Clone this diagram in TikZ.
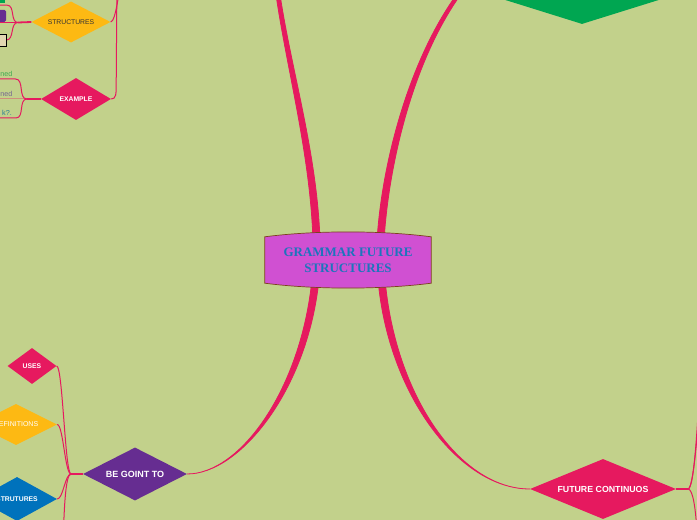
\documentclass[tikz,border=0pt]{standalone}
\usepackage{fontspec}
\setmainfont{Liberation Sans}
\newfontfamily\titlefont{Liberation Serif}
\usetikzlibrary{shapes.geometric,calc}
\definecolor{bgolive}{RGB}{194,209,139}
\definecolor{crimson}{RGB}{230,25,95}
\definecolor{mmorange}{RGB}{253,185,19}
\definecolor{mmpurple}{RGB}{102,45,145}
\definecolor{mmblue}{RGB}{0,114,188}
\definecolor{mmgreen}{RGB}{0,166,81}
\definecolor{mainfill}{RGB}{208,80,210}
\definecolor{mainedge}{RGB}{125,65,30}
\definecolor{titleblue}{RGB}{28,117,188}
\definecolor{boxbeige}{RGB}{225,215,178}
\definecolor{leafgreen}{RGB}{60,170,80}
\definecolor{leafgray}{RGB}{115,100,145}
\definecolor{leafteal}{RGB}{40,125,150}
\pgfdeclarelayer{bg}
\pgfdeclarelayer{mid}
\pgfsetlayers{bg,mid,main}
\tikzset{
  topic/.style={diamond,aspect=2,inner sep=0pt,text=white,font=\bfseries\fontsize{6.8}{8}\selectfont},
  leaf/.style={anchor=south east,inner xsep=1pt,inner ysep=2.5pt,font=\fontsize{7.2}{8}\selectfont},
  branch/.style={crimson,line width=1pt},
  trunk/.style={fill=crimson,draw=crimson,line width=0.8pt},
}
\begin{document}
\begin{tikzpicture}[x=1pt,y=1pt]
\begin{pgfonlayer}{bg}
\fill[bgolive] (0,0) rectangle (697,520);
\end{pgfonlayer}
\useasboundingbox (0,0) rectangle (697,520);

% central topic
\node[minimum width=166pt,minimum height=46pt,align=center,text=titleblue,
  font=\titlefont\bfseries\fontsize{13}{16}\selectfont] (main) at (348,260) {GRAMMAR FUTURE\\STRUCTURES};
\begin{pgfonlayer}{mid}
\filldraw[fill=mainfill,draw=mainedge,line width=0.7pt] (main.north west) .. controls +(50,6.5) and +(-50,6.5) .. (main.north east)
  -- (main.south east) .. controls +(-50,-6.5) and +(50,-6.5) .. (main.south west) -- cycle;
\end{pgfonlayer}

% topics
\node[topic,fill=mmgreen,aspect=3.2,minimum width=288pt,minimum height=90pt] (tense) at (582,541) {};
\node[topic,fill=mmorange,text=black!80,font=\fontsize{6.8}{8}\selectfont,minimum width=79pt,minimum height=41pt] (structs) at (71,498) {STRUCTURES};
\node[topic,fill=crimson,minimum width=70pt,minimum height=42pt] (example) at (76,421) {EXAMPLE};
\node[topic,fill=crimson,minimum width=49pt,minimum height=36pt] (uses) at (32,154) {USES};
\node[topic,fill=mmorange,font=\fontsize{7}{8}\selectfont,minimum width=82pt,minimum height=41pt] (defs) at (16,95.5) {DEFINITIONS};
\node[topic,fill=mmblue,minimum width=80pt,minimum height=44pt] (struts) at (17,21) {STRUTURES};
\node[topic,fill=mmpurple,font=\bfseries\fontsize{9}{11}\selectfont,minimum width=104pt,minimum height=53pt] (bego) at (135,46) {BE GOINT TO};
\node[topic,fill=crimson,aspect=2.4,font=\bfseries\fontsize{8.8}{11}\selectfont,minimum width=146pt,minimum height=60pt] (futcont) at (603,31) {FUTURE CONTINUOS};

% cut-off subtopics
\node[fill=mmgreen,minimum width=15pt,minimum height=8pt,inner sep=0pt] (gbox) at (-2.5,521) {};
\node[fill=mmpurple,rounded corners=1.5pt,minimum width=16pt,minimum height=12pt,inner sep=0pt] (pbox) at (-2,504) {};
\node[fill=boxbeige,draw=black,line width=0.8pt,minimum width=16pt,minimum height=12pt,inner sep=0pt] (beigebox) at (-2,480) {};
\node[leaf,text=leafgreen] (ned1) at (13.5,441) {ned};
\node[leaf,text=leafgray] (ned2) at (13.5,421) {ned};
\node[leaf,text=leafteal] (ask) at (13,402) {k?.};

\coordinate (hubS) at (18,497.5);
\coordinate (hubE) at (27,421);
\coordinate (hubB) at (71,46);
\coordinate (hubF) at (688,31);
\coordinate (ulend) at (276,540);
\coordinate (urend) at (470,540);
\coordinate (stup) at (121,545);
\coordinate (exup) at (117,545);
\coordinate (bdown) at (63,-25);
\coordinate (fr1) at (702,190);
\coordinate (fr2) at (700,120);
\coordinate (fr3) at (697,-15);

\begin{pgfonlayer}{bg}
% main branches
\filldraw[trunk] ($(main.north)+(-35,-4)$) .. controls +(-3,93) and +(10,-80) .. ($(ulend)+(-2,0)$)
  -- ($(ulend)+(2,0)$) .. controls +(10,-80) and +(-3,93) .. ($(main.north)+(-28,-4)$) -- cycle;
\filldraw[trunk] ($(main.north)+(29,-4)$) .. controls +(5,83) and +(-55,-65) .. ($(urend)+(-2,0)$)
  -- ($(urend)+(2,0)$) .. controls +(-55,-65) and +(5,83) .. ($(main.north)+(36,-4)$) -- cycle;
\filldraw[trunk] ($(main.south)+(-36,4)$) .. controls +(-11,-110) and +(53,0) .. (bego.east)
  .. controls +(53,0) and +(-11,-110) .. ($(main.south)+(-29,4)$) -- cycle;
\filldraw[trunk] ($(main.south)+(30,4)$) .. controls +(10,-116) and +(-70,0) .. (futcont.west)
  .. controls +(-70,0) and +(10,-116) .. ($(main.south)+(37,4)$) -- cycle;

% upper left
\draw[branch] (structs.east) .. controls +(5,0) and +(-1,-12) .. (stup);
\draw[branch] (example.east) .. controls +(5,0) and +(0,-10) .. ++(5,15) -- (exup);
\draw[branch,line width=1.8pt] (structs.west) -- (hubS);
\draw[branch] (hubS) to[out=180,in=0] ($(gbox.south east)+(2,-2)$) -- ++(-15,0);
\draw[branch] (hubS) -- ++(-25,0);
\draw[branch] (hubS) to[out=180,in=0] (beigebox.east);
\draw[branch,line width=1.8pt] (example.west) -- (hubE);
\draw[branch] (hubE) to[out=180,in=0] ($(ned1.south east)+(2,0)$) -- ++(-20,0);
\draw[branch] (hubE) -- (ned2.south west) -- ++(-5,0);
\draw[branch] (hubE) to[out=180,in=0] ($(ask.south east)+(3,0)$) -- ++(-20,0);

% be going to
\draw[branch,line width=1.5pt] (bego.west) -- (hubB);
\draw[branch] (hubB) .. controls +(-6,0) and +(6,0) .. (uses.east);
\draw[branch] (hubB) .. controls +(-6,0) and +(6,0) .. (defs.east);
\draw[branch] (hubB) .. controls +(-6,0) and +(6,0) .. (struts.east);
\draw[branch] (hubB) .. controls +(-6,0) and +(1,30) .. (bdown);

% future continuous
\draw[branch,line width=1.5pt] (futcont.east) -- (hubF);
\draw[branch] (hubF) .. controls +(6,0) and +(-4,-100) .. (fr1);
\draw[branch] (hubF) .. controls +(5,0) and +(-3,-40) .. (fr2);
\draw[branch] (hubF) .. controls +(5,0) and +(-1,25) .. (fr3);
\end{pgfonlayer}
\end{tikzpicture}
\end{document}
